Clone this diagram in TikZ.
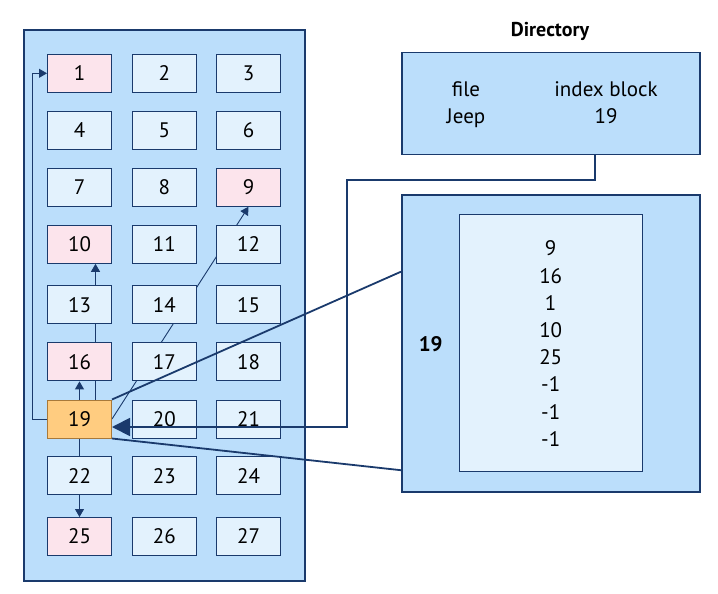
\documentclass[tikz,border=0pt]{standalone}
\usepackage{fontspec}
\setmainfont{PT Sans}
\usetikzlibrary{arrows.meta,calc}
\definecolor{panel}{HTML}{BBDEFB}
\definecolor{navy}{HTML}{1A3A6C}
\definecolor{blk}{HTML}{E3F2FD}
\definecolor{pinkb}{HTML}{FCE4EC}
\definecolor{orng}{HTML}{FFCC80}
\definecolor{orngd}{HTML}{A8793A}
\pgfdeclarelayer{back}
\pgfdeclarelayer{mid}
\pgfsetlayers{back,mid,main}
\tikzset{
  txt/.style={font=\fontsize{21}{23}\selectfont},
  blockbox/.style={draw=navy, fill=blk, line width=1pt, minimum width=64pt, minimum height=38pt, inner sep=0pt, txt},
  pinkbox/.style={blockbox, fill=pinkb},
  orangebox/.style={blockbox, fill=orng, draw=orngd},
  thinline/.style={draw=navy, line width=0.9pt},
  thinarrow/.style={thinline, -{Triangle[length=8pt,width=9pt]}},
  thickline/.style={draw=navy, line width=1.8pt},
}
\begin{document}
\begin{tikzpicture}[x=1pt,y=-1pt]
\useasboundingbox (0,0) rectangle (718,594);
\begin{pgfonlayer}{back}
\fill[panel, draw=navy, line width=1.1pt] (24,30) rectangle (305,581);
\end{pgfonlayer}
% grid blocks
\foreach \n/\c/\r/\s in {1/1/1/pinkbox,2/2/1/blockbox,3/3/1/blockbox,
  4/1/2/blockbox,5/2/2/blockbox,6/3/2/blockbox,
  7/1/3/blockbox,8/2/3/blockbox,9/3/3/pinkbox,
  10/1/4/pinkbox,11/2/4/blockbox,12/3/4/blockbox,
  13/1/5/blockbox,14/2/5/blockbox,15/3/5/blockbox,
  16/1/6/pinkbox,17/2/6/blockbox,18/3/6/blockbox,
  19/1/7/orangebox,20/2/7/blockbox,21/3/7/blockbox,
  22/1/8/blockbox,23/2/8/blockbox,24/3/8/blockbox,
  25/1/9/pinkbox,26/2/9/blockbox,27/3/9/blockbox}{
  \pgfmathsetmacro{\xx}{{0,79.5,164.3,248.5}[\c]}
  \pgfmathsetmacro{\yy}{{0,73.3,130.3,187.3,244.3,304.9,361.9,419,475.9,536.5}[\r]}
  \node[\s] (n\n) at (\xx,\yy) {\n};
}
% thin connectors behind blocks
\begin{pgfonlayer}{mid}
\draw[thinarrow] (n19.north) -- (n16.south);
\draw[thinarrow] ($(n19.north)+(16,0)$) -- ($(n10.south)+(16,0)$);
\draw[thinarrow] (n19.south) -- (n25.north);
\draw[thinarrow] (n19.east) -- (n9.south);
\draw[thinarrow] (n19.west) -- ++(-14.5,0) |- (n1.west);
\end{pgfonlayer}
% directory
\node[font=\bfseries\fontsize{20}{22}\selectfont, anchor=base] (dirlabel) at (550,36.7) {Directory};
\node[draw=navy, fill=panel, line width=1.3pt, minimum width=298pt, minimum height=102pt, inner sep=0pt] (dir) at (550.85,103.3) {};
\node[txt, anchor=base] (dfile) at (466,96) {file};
\node[txt, anchor=base] (dindex) at (606,96) {index block};
\node[txt, anchor=base] (djeep) at (466,123) {Jeep};
\node[txt, anchor=base] (d19) at (606,123) {19};
% index block
\node[draw=navy, fill=panel, line width=1.8pt, minimum width=298pt, minimum height=296.7pt, inner sep=0pt] (idx) at (550.85,343.35) {};
\node[draw=navy, fill=blk, line width=1pt, minimum width=183pt, minimum height=256.7pt, inner sep=0pt] (inner) at (550.8,342.65) {};
\node[font=\bfseries\fontsize{21}{23}\selectfont] (idxlabel) at (430.7,344) {19};
\foreach \v/\y [count=\i] in {9/248.3,16/276,1/303,10/330,25/356.7,-1/384,-1/411.7,-1/438.7}{
  \node[txt] (v\i) at (550.7,\y) {\v};
}
% thick connectors
\coordinate (dstart) at ($(dir.south)+(44.5,0)$);
\coordinate (bend) at (346.7,180.3);
\coordinate (tip) at ($(n19.east)+(0,8)$);
\draw[thickline, -{Triangle[length=18pt,width=18pt]}] (dstart) |- (bend) -- (bend |- tip) -- (tip);
\draw[thickline] (n19.north east) -- ($(idx.north west)!0.26!(idx.south west)$);
\draw[thickline] (n19.south east) -- ($(idx.north west)!0.925!(idx.south west)$);
\end{tikzpicture}
\end{document}
